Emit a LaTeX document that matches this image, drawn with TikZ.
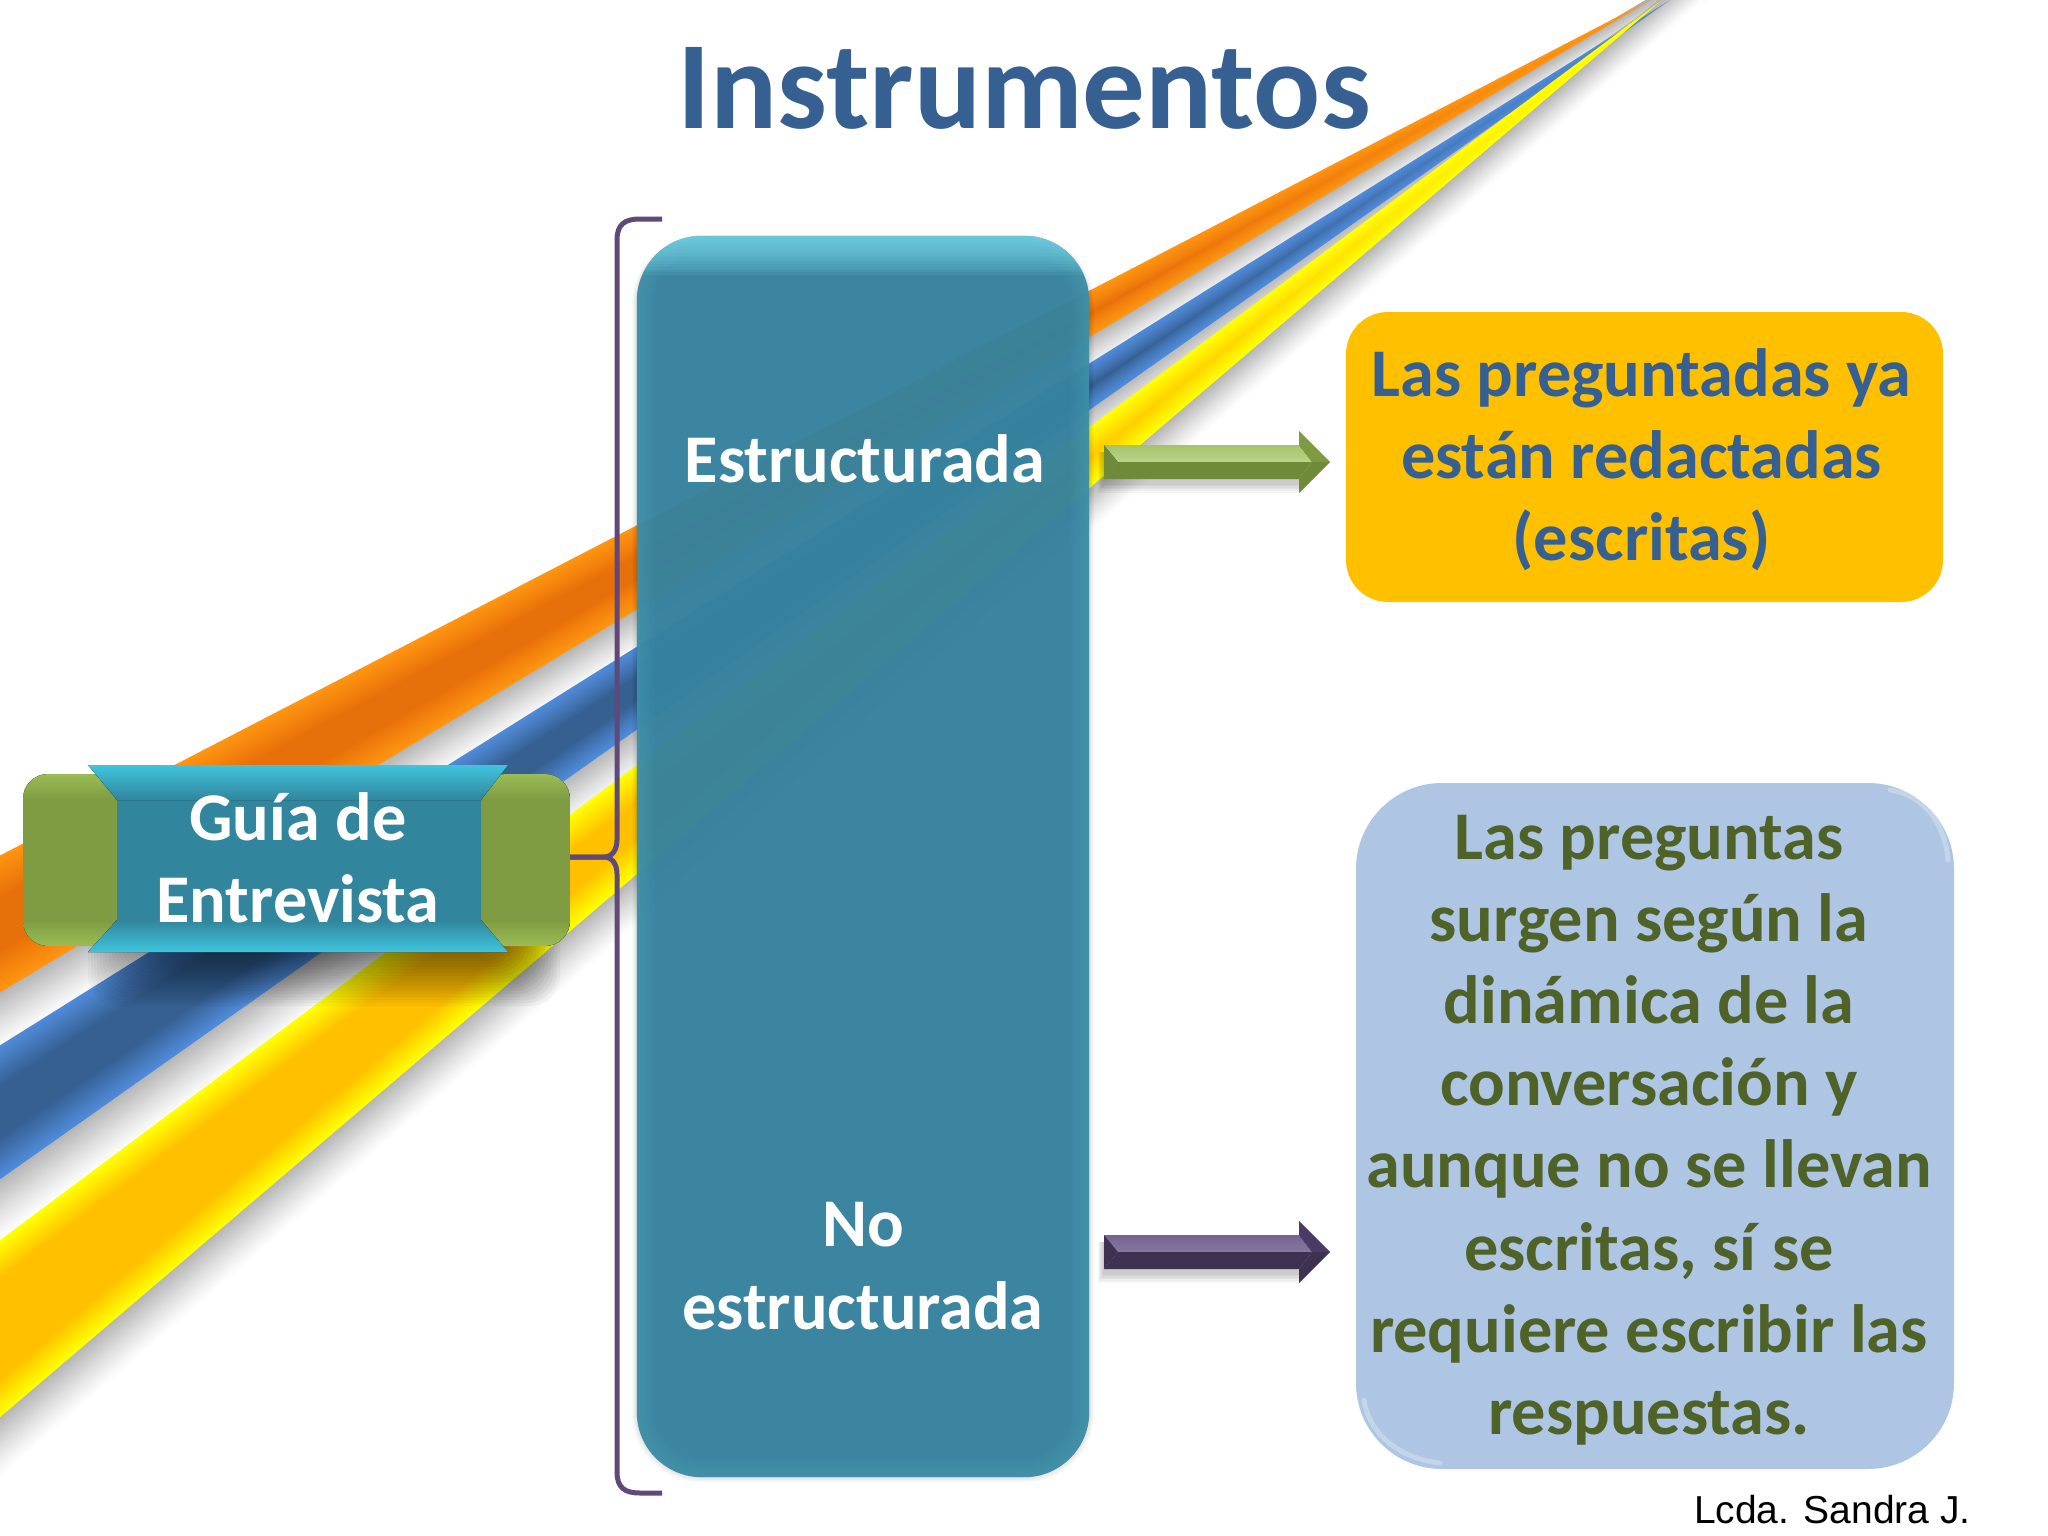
\documentclass[tikz,border=0pt]{standalone}
\usepackage{fontspec}
\setmainfont{Carlito}
\newfontfamily\footerfont{Liberation Sans}
\usetikzlibrary{calc}
\definecolor{tealmain}{HTML}{36829E}
\definecolor{teallight}{HTML}{7FE3F5}
\definecolor{ribbonlight}{HTML}{3FC4DE}
\definecolor{ribbonmain}{HTML}{31859C}
\definecolor{titleblue}{HTML}{376092}
\definecolor{leaf}{HTML}{4F6228}
\definecolor{bracepurple}{HTML}{5F497A}
\definecolor{capgreen}{HTML}{7F9C42}
\definecolor{caplight}{HTML}{9ABB55}
\definecolor{oedge}{HTML}{FF9410}
\definecolor{ocore}{HTML}{E8700A}
\definecolor{bedge}{HTML}{4F8AD8}
\definecolor{bcore}{HTML}{366092}
\definecolor{yedge}{HTML}{FFFF00}
\definecolor{ycore}{HTML}{FFC000}
\definecolor{paleblue}{HTML}{AEC5E3}
\definecolor{glighta}{HTML}{A6C36A}
\definecolor{glightb}{HTML}{BAD389}
\definecolor{ghead}{HTML}{7E9A42}
\definecolor{gdark}{HTML}{6F8A38}
\definecolor{plighta}{HTML}{75648F}
\definecolor{plightb}{HTML}{8677A3}
\definecolor{phead}{HTML}{4A3B66}
\definecolor{pdark}{HTML}{3F3151}
\tikzset{
  x=1pt,y=-1pt,
  bigtext/.style={font=\bfseries\fontsize{68.3}{82.2}\selectfont,align=center,inner sep=0pt},
  boxteal/.style={fill=tealmain,fill opacity=.965,rounded corners=65pt},
}
% band: tip x at y=0, y1 and y2 at x=0, edge colour, core colour, core tip x, share of the half width that fades
\newcommand\bandpoly[7]{%
  \foreach \i in {0,...,12}{%
    \pgfmathsetmacro\frac{\i/12}%
    \pgfmathsetmacro\pc{100*\frac}%
    \pgfmathsetmacro\ins{\frac*(#3-#2)/2*#7}%
    \pgfmathsetmacro\tx{#1+(#6-#1)*\frac}%
    \pgfmathsetmacro\ty{(1-\tx/#1)*(#2+#3)/2}%
    \fill[#5!\pc!#4] (\tx,\ty) -- (-1,#2+\ins) -- (-1,#3-\ins) -- cycle;
  }}
% soft shadow below a band: tip x, lower y at x=0, reach
\newcommand\bandshadow[3]{%
  \foreach \k in {0,...,20}{%
    \pgfmathsetmacro\s{#3*(1-\k/20)}%
    \pgfmathsetmacro\pc{30*(\k/20)^1.2}%
    \fill[black!\pc!white] (#1+.7*\s,0) -- (-1,#2+\s) -- (-1,#2-8) -- (#1-4,0) -- cycle;
  }}
\newcommand\facetarrow[5]{% y, top light, facet light, head, dark
  \begin{scope}[shift={(0,#1)}]
    \foreach \i in {1,...,6}{\fill[black,opacity=.035] (1104-\i,-10) -- (1299+\i,-10) -- (1299+\i,17+1.6*\i+4) -- (1104-\i,17+1.6*\i+4) -- cycle;}
    \fill[#5] (1104,17) -- (1118,0) -- (1104,-17) -- cycle;
    \fill[top color=#2,bottom color=#3] (1104,-17) -- (1299,-17) -- (1312,0) -- (1118,0) -- cycle;
    \fill[#5] (1104,17) -- (1299,17) -- (1312,0) -- (1118,0) -- cycle;
    \fill[#4] (1299,-31) -- (1330,0) -- (1312,0) -- (1299,-17) -- cycle;
    \fill[#5] (1299,31) -- (1330,0) -- (1312,0) -- (1299,17) -- cycle;
  \end{scope}}
\newcommand\capbox[2]{% x1, x2
  \begin{scope}
    \clip[rounded corners=25pt] (#1,774) rectangle (#2,946);
    \fill[capgreen] (#1,774) rectangle (#2,946);
    \fill[top color=caplight,bottom color=capgreen] (#1,774) rectangle (#2,800);
    \fill[top color=capgreen,bottom color=caplight] (#1,920) rectangle (#2,946);
  \end{scope}}
\begin{document}
\begin{tikzpicture}
\useasboundingbox (0,0) rectangle (2048,1536);
\fill[white] (0,0) rectangle (2048,1536);
% shadows below the bands
\bandshadow{1650}{993}{60}
\bandshadow{1666}{1180}{64}
\bandshadow{1662}{1418}{62}
% bands
\bandpoly{1650}{856}{993}{oedge}{ocore}{1150}{.6}
\bandpoly{1670}{1046}{1180}{bedge}{bcore}{1150}{.6}
\bandpoly{1662}{1241}{1418}{yedge}{ycore}{1000}{.42}
% big box
\foreach \i in {1,...,5}{\fill[black,opacity=.025,rounded corners=68pt] (637-\i,236) rectangle (1089+\i,1477+\i);}
\node[inner sep=0pt,minimum width=452pt,minimum height=1241pt] (box) at (863,856.5) {};
\path[boxteal] (box.north west) rectangle (box.south east);
\begin{scope}
  \clip[rounded corners=65pt] (box.north west) rectangle (box.south east);
  \foreach \w in {6,12,...,36}{\draw[teallight,opacity=.022,line width=\w pt,rounded corners=65pt] (box.north west) rectangle (box.south east);}
  \foreach \i in {1,...,14}{\fill[teallight,opacity=.085] (637,236) rectangle (1089,236+\i*2.8);}
\end{scope}
\node[bigtext,text=white] (est) at (865,458.5) {Estructurada};
\node[bigtext,text=white] (noest) at (863,1266) {No\\estructurada};
% answer boxes
\node[inner sep=0pt,minimum width=597pt,minimum height=290pt,fill=ycore,rounded corners=42pt] (yes) at (1644.5,457) {};
\node[bigtext,text=titleblue] at ($(yes.center)+(-3,3)$) {Las preguntadas ya\\están redactadas\\(escritas)};
\node[inner sep=0pt,minimum width=598pt,minimum height=686pt,fill=paleblue,rounded corners=86pt] (no) at (1655,1126) {};
\draw[white,opacity=.28,line width=5pt,line cap=round] (1890,790) .. controls (1925,795) and (1945,825) .. (1948,860);
\draw[white,opacity=.28,line width=5pt,line cap=round] (1364,1400) .. controls (1368,1430) and (1395,1458) .. (1440,1463);
\node[bigtext,text=leaf] (notxt) at (1649,1130) {Las preguntas\\surgen según la\\dinámica de la\\conversación y\\aunque no se llevan\\escritas, sí se\\requiere escribir las\\respuestas.};
% arrows
\facetarrow{462}{glighta}{glightb}{ghead}{gdark}
\facetarrow{1252}{plighta}{plightb}{phead}{pdark}
% ribbon shadow
\foreach \i in {0,...,17}{\fill[black,opacity=.032,rounded corners=30pt] (88+\i*3,800) rectangle (560-\i*3,1006-\i*3);}
% ribbon
\capbox{23}{117}
\capbox{481}{570}
\fill[ribbonmain] (88,765) -- (508,765) -- (481,800) -- (481,920) -- (508,952) -- (88,952) -- (117,920) -- (117,800) -- cycle;
\fill[top color=ribbonlight,bottom color=ribbonmain] (88,765) -- (508,765) -- (481,800) -- (117,800) -- cycle;
\fill[top color=ribbonmain,bottom color=ribbonlight] (117,920) -- (481,920) -- (508,952) -- (88,952) -- cycle;
\node[bigtext,text=white] (guia) at (298,858) {Guía de\\Entrevista};
% brace
\coordinate (bracetip) at (570,857);
\coordinate (bracetop) at (662,219);
\coordinate (bracebot) at (662,1493);
\draw[bracepurple,line width=5pt] (bracetop) -- (640,219) .. controls (625,219) and (617,224) .. (617,240) -- (617,840) .. controls (617,850) and (612,857) .. (604,857) -- (bracetip);
\draw[bracepurple,line width=5pt] (bracetip) -- (604,857) .. controls (612,857) and (617,864) .. (617,874) -- (617,1472) .. controls (617,1488) and (625,1493) .. (640,1493) -- (bracebot);
% title and footer
\node[font=\bfseries\fontsize{125}{130}\selectfont,text=titleblue,inner sep=0pt,anchor=base] (title) at (1024,129) {Instrumentos};
\node[font=\footerfont\fontsize{39}{42}\selectfont,text=black,inner sep=0pt,anchor=base east] (foot) at (1971,1523) {Lcda. Sandra J.};
\end{tikzpicture}
\end{document}
